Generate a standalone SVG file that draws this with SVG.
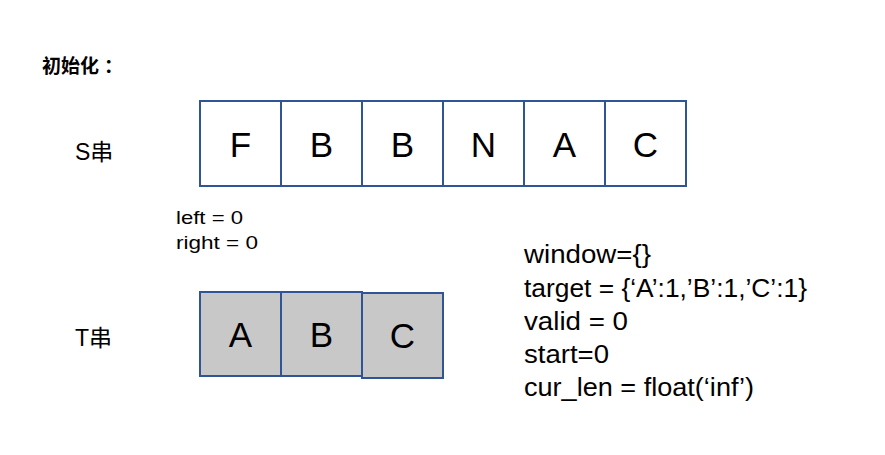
<svg xmlns="http://www.w3.org/2000/svg" width="885" height="455" viewBox="0 0 885 455">
<style>
.box{fill:#ffffff;stroke:#2F5597;stroke-width:2}
.tbox{fill:#C8C8C8;stroke:#2F5597;stroke-width:2}
.ch{font-family:"Liberation Sans","Noto Sans CJK SC",sans-serif;font-size:35px;fill:#000;text-anchor:middle}
.lbl{font-family:"Liberation Sans","Noto Sans CJK SC",sans-serif;font-size:23px;fill:#000}
.sm{font-family:"Liberation Sans",sans-serif;font-size:19px;fill:#000}
.code{font-family:"Liberation Sans",sans-serif;font-size:25px;fill:#000}
.title{font-family:"Noto Sans CJK SC",sans-serif;font-size:19px;font-weight:bold;fill:#000}
</style>
<rect width="885" height="455" fill="#ffffff"/>
<text class="title" x="42" y="73">初始化<tspan x="104">：</tspan></text>
<g id="s-label"><text class="lbl" x="75" y="160">S串</text></g>
<g id="t-label"><text class="lbl" x="75" y="346">T串</text></g>
<g id="s-string">
<g id="s0"><rect class="box" x="200" y="101" width="81" height="85"/><text class="ch" x="240.5" y="157">F</text></g>
<g id="s1"><rect class="box" x="281" y="101" width="81" height="85"/><text class="ch" x="321.5" y="157">B</text></g>
<g id="s2"><rect class="box" x="362" y="101" width="81" height="85"/><text class="ch" x="402.5" y="157">B</text></g>
<g id="s3"><rect class="box" x="443" y="101" width="81" height="85"/><text class="ch" x="483.5" y="157">N</text></g>
<g id="s4"><rect class="box" x="524" y="101" width="81" height="85"/><text class="ch" x="564.5" y="157">A</text></g>
<g id="s5"><rect class="box" x="605" y="101" width="81" height="85"/><text class="ch" x="645.5" y="157">C</text></g>
</g>
<g id="pointers">
<text class="sm" x="176" y="224" textLength="67" lengthAdjust="spacingAndGlyphs">left = 0</text>
<text class="sm" x="176" y="249" textLength="82" lengthAdjust="spacingAndGlyphs">right = 0</text>
</g>
<g id="t-string">
<g id="t0"><rect class="tbox" x="200" y="292" width="81" height="84"/><text class="ch" x="240.5" y="347">A</text></g>
<g id="t1"><rect class="tbox" x="281" y="292" width="81" height="84"/><text class="ch" x="321.5" y="347">B</text></g>
<g id="t2"><rect class="tbox" x="362" y="293" width="81" height="85"/><text class="ch" x="402.5" y="348">C</text></g>
</g>
<g id="state">
<text class="code" x="524" y="263" textLength="127" lengthAdjust="spacingAndGlyphs">window={}</text>
<text class="code" x="524" y="297" textLength="283" lengthAdjust="spacingAndGlyphs">target = {‘A’:1,’B’:1,’C’:1}</text>
<text class="code" x="524" y="330" textLength="104" lengthAdjust="spacingAndGlyphs">valid = 0</text>
<text class="code" x="524" y="363" textLength="85" lengthAdjust="spacingAndGlyphs">start=0</text>
<text class="code" x="524" y="396" textLength="230" lengthAdjust="spacingAndGlyphs">cur_len = float(‘inf’)</text>
</g>
<g id="connectors"></g>
</svg>
